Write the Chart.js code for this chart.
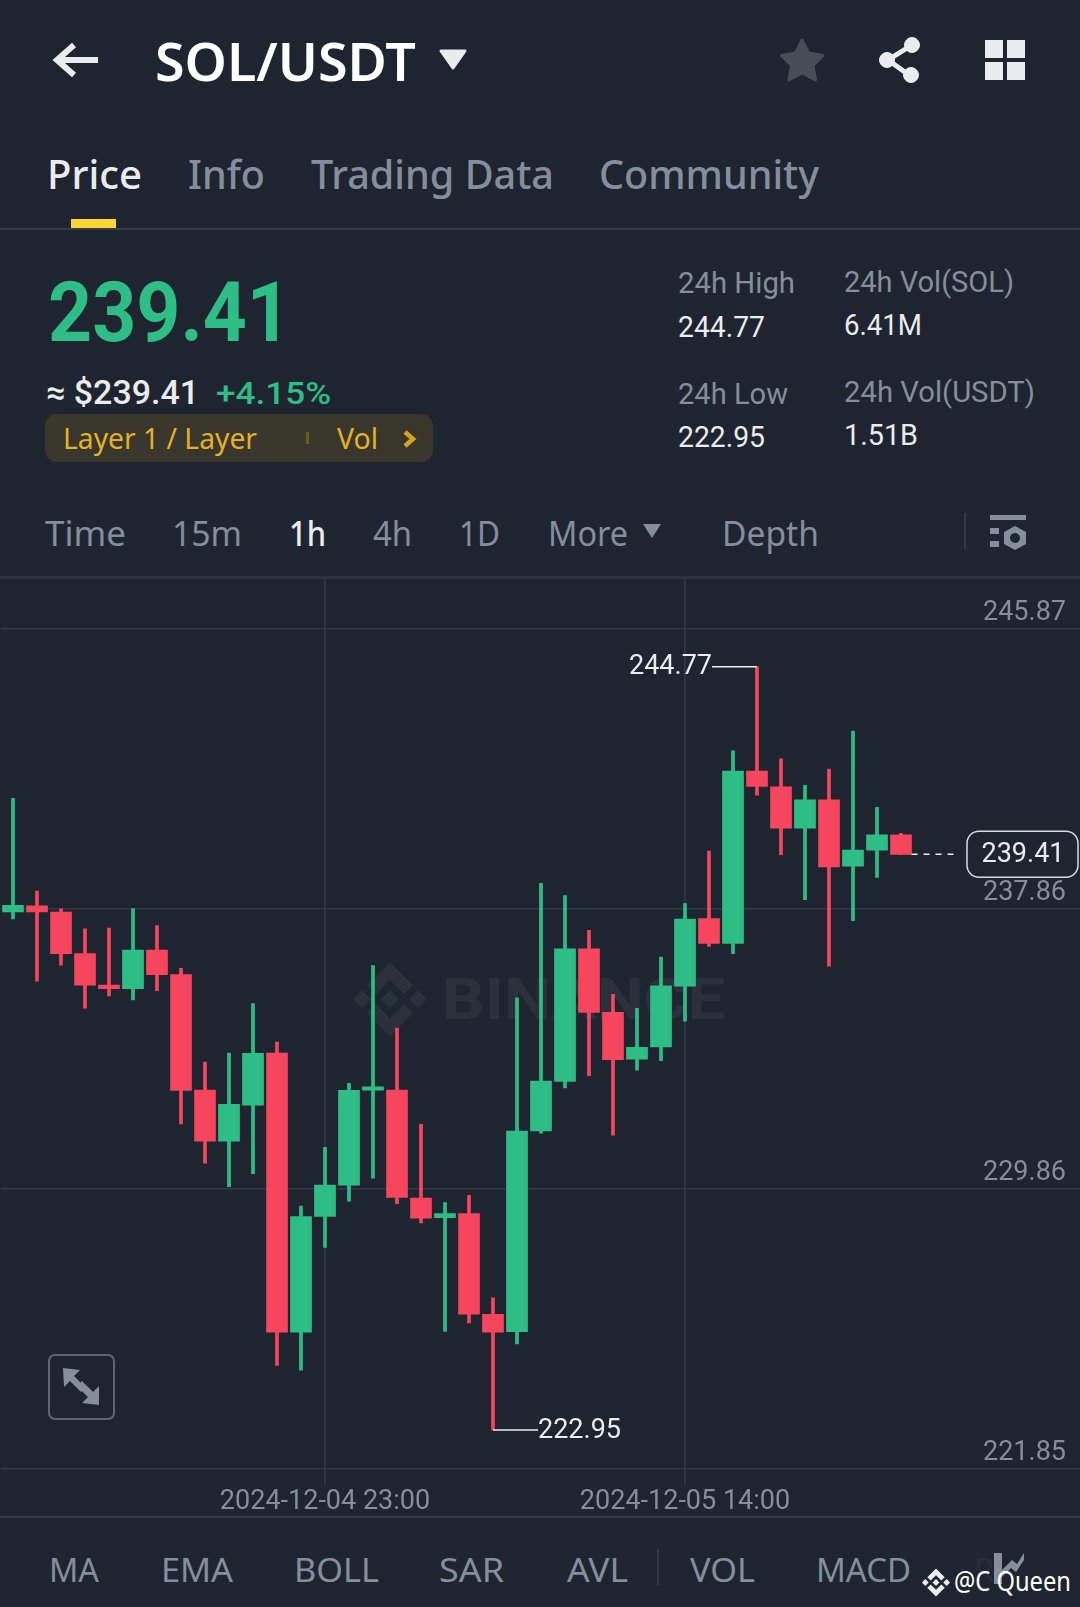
<!DOCTYPE html>
<html>
<head>
<meta charset="utf-8">
<title>SOL/USDT</title>
<script src="https://cdn.jsdelivr.net/npm/chart.js@4/dist/chart.umd.min.js"></script>
<style>
html, body { margin: 0; padding: 0; background: #1f2530; }
body { position: relative; width: 1080px; height: 1607px; overflow: hidden; }
#chrome { position: absolute; left: 0; top: 0; }
#chartBox { position: absolute; left: 1px; top: 578px; width: 1080px; height: 939px; }
text { font-family: Roboto, sans-serif; }
.plex { font-family: "Noto Sans", sans-serif; }
.gray { fill: #848e9c; }
.white { fill: #eaecef; }
.yellow { fill: #e3b128; }
.green { fill: #2ebd85; }
</style>
</head>
<body>

<svg id="chrome" width="1080" height="1607" viewBox="0 0 1080 1607">
  <defs>
    <g id="bnbLogo">
      <polygon points="0,-37 23,-14 14,-5 0,-19 -14,-5 -23,-14"/>
      <polygon points="0,37 23,14 14,5 0,19 -14,5 -23,14"/>
      <polygon points="0,-9 9,0 0,9 -9,0"/>
      <polygon points="-28,-9 -19,0 -28,9 -37,0"/>
      <polygon points="28,-9 37,0 28,9 19,0"/>
    </g>
  </defs>

  <!-- top bar -->
  <path d="M58 60H98M74 45L57 60L74 75" fill="none" stroke="#eaecef" stroke-width="6"/>
  <text class="plex" x="155" y="81" font-size="53" font-weight="600" fill="#ffffff" textLength="261" lengthAdjust="spacingAndGlyphs">SOL/USDT</text>
  <polygon points="441,51 465,51 453,68" fill="#eaecef" stroke="#eaecef" stroke-width="3" stroke-linejoin="round"/>
  <polygon points="802,40 808.7,53 823,55.5 813,65.5 815.5,80 802,73 789,80 791.5,65.5 781.5,55.5 795.5,53" fill="#474d57" stroke="#474d57" stroke-width="3" stroke-linejoin="round"/>
  <g fill="#eaecef" stroke="#eaecef">
    <path d="M912 45L888 60L909 75" fill="none" stroke-width="5"/>
    <circle cx="912" cy="45" r="7.5"/><circle cx="887" cy="60" r="7.5"/><circle cx="911" cy="75" r="7.5"/>
  </g>
  <g fill="#eaecef">
    <rect x="985" y="40" width="18" height="18"/><rect x="1007" y="40" width="18" height="18"/>
    <rect x="985" y="62" width="18" height="18"/><rect x="1007" y="62" width="18" height="18"/>
  </g>

  <!-- tabs -->
  <text class="plex" x="47" y="189" font-size="39" font-weight="500" fill="#eaecef" textLength="95" lengthAdjust="spacingAndGlyphs">Price</text>
  <text class="plex gray" x="188" y="189" font-size="39" font-weight="500" textLength="77" lengthAdjust="spacingAndGlyphs">Info</text>
  <text class="plex gray" x="311" y="189" font-size="39" font-weight="500" textLength="243" lengthAdjust="spacingAndGlyphs">Trading Data</text>
  <text class="plex gray" x="599" y="189" font-size="39" font-weight="500" textLength="220" lengthAdjust="spacingAndGlyphs">Community</text>
  <rect x="71" y="219" width="45" height="9" fill="#fcd535"/>
  <rect x="0" y="228" width="1080" height="2" fill="#333a46"/>

  <!-- price block -->
  <text x="48" y="341" font-size="84" font-weight="700" class="green" textLength="243" lengthAdjust="spacingAndGlyphs">239.41</text>
  <text x="46" y="404" font-size="34" font-weight="500" class="white" textLength="153" lengthAdjust="spacingAndGlyphs">≈ $239.41</text>
  <text x="216" y="404" font-size="32" font-weight="500" class="green" textLength="115" lengthAdjust="spacingAndGlyphs">+4.15%</text>
  <rect x="45" y="414" width="388" height="48" rx="12" fill="#39362c"/>
  <text class="plex yellow" x="63" y="449" font-size="29" textLength="194" lengthAdjust="spacingAndGlyphs">Layer 1 / Layer</text>
  <rect x="306" y="432" width="3" height="12" fill="#6b5a1e"/>
  <text class="plex yellow" x="337" y="449" font-size="29" textLength="41" lengthAdjust="spacingAndGlyphs">Vol</text>
  <path d="M405 432L413 439L405 446" fill="none" stroke="#d6a51e" stroke-width="4.5"/>

  <text class="gray" x="678" y="293" font-size="29" textLength="117" lengthAdjust="spacingAndGlyphs">24h High</text>
  <text class="white" x="678" y="337" font-size="29" textLength="87" lengthAdjust="spacingAndGlyphs">244.77</text>
  <text class="gray" x="844" y="292" font-size="29" textLength="170" lengthAdjust="spacingAndGlyphs">24h Vol(SOL)</text>
  <text class="white" x="844" y="335" font-size="29" textLength="78" lengthAdjust="spacingAndGlyphs">6.41M</text>
  <text class="gray" x="678" y="404" font-size="29" textLength="110" lengthAdjust="spacingAndGlyphs">24h Low</text>
  <text class="white" x="678" y="447" font-size="29" textLength="87" lengthAdjust="spacingAndGlyphs">222.95</text>
  <text class="gray" x="844" y="402" font-size="29" textLength="191" lengthAdjust="spacingAndGlyphs">24h Vol(USDT)</text>
  <text class="white" x="844" y="445" font-size="29" textLength="74" lengthAdjust="spacingAndGlyphs">1.51B</text>

  <!-- interval row -->
  <text class="plex gray" x="45" y="546" font-size="34" textLength="81" lengthAdjust="spacingAndGlyphs">Time</text>
  <text class="plex gray" x="172" y="546" font-size="34" textLength="70" lengthAdjust="spacingAndGlyphs">15m</text>
  <text class="plex white" x="289" y="546" font-size="34" font-weight="500" textLength="37" lengthAdjust="spacingAndGlyphs">1h</text>
  <text class="plex gray" x="373" y="546" font-size="34" textLength="39" lengthAdjust="spacingAndGlyphs">4h</text>
  <text class="plex gray" x="459" y="546" font-size="34" textLength="41" lengthAdjust="spacingAndGlyphs">1D</text>
  <text class="plex gray" x="548" y="546" font-size="34" textLength="80" lengthAdjust="spacingAndGlyphs">More</text>
  <polygon points="643,524 661,524 652,538" fill="#848e9c"/>
  <text class="plex gray" x="722" y="546" font-size="34" textLength="97" lengthAdjust="spacingAndGlyphs">Depth</text>
  <rect x="964" y="513" width="2" height="36" fill="#333a46"/>
  <g fill="#848e9c">
    <rect x="990" y="515" width="36" height="5"/>
    <rect x="990" y="528" width="9" height="6"/><rect x="990" y="541" width="9" height="6"/>
    <path d="M1015 526L1026 532V544L1015 550L1004 544V532ZM1015 533A5 5 0 1 0 1015 543A5 5 0 1 0 1015 533Z" fill-rule="evenodd"/>
  </g>
  <rect x="0" y="576" width="1080" height="3" fill="#2b3140"/>

  <!-- watermark -->
  <use href="#bnbLogo" transform="translate(390 999)" fill="#2b303b"/>
  <text x="442" y="1019" font-size="57" font-weight="700" fill="#2b303b" textLength="283" lengthAdjust="spacingAndGlyphs">BINANCE</text>

  <!-- bottom bar -->
  <rect x="0" y="1516" width="1080" height="2" fill="#333a46"/>
  <text class="plex gray" x="49" y="1582" font-size="33" textLength="50" lengthAdjust="spacingAndGlyphs">MA</text>
  <text class="plex gray" x="161" y="1582" font-size="33" textLength="72" lengthAdjust="spacingAndGlyphs">EMA</text>
  <text class="plex gray" x="294" y="1582" font-size="33" textLength="85" lengthAdjust="spacingAndGlyphs">BOLL</text>
  <text class="plex gray" x="439" y="1582" font-size="33" textLength="65" lengthAdjust="spacingAndGlyphs">SAR</text>
  <text class="plex gray" x="567" y="1582" font-size="33" textLength="61" lengthAdjust="spacingAndGlyphs">AVL</text>
  <rect x="657" y="1549" width="2" height="36" fill="#333a46"/>
  <text class="plex gray" x="690" y="1582" font-size="33" textLength="65" lengthAdjust="spacingAndGlyphs">VOL</text>
  <text class="plex gray" x="816" y="1582" font-size="33" textLength="95" lengthAdjust="spacingAndGlyphs">MACD</text>
  <text class="plex" x="974" y="1582" font-size="33" fill="#272d38">R</text>
  <path d="M994 1553H1002V1570L1012 1560L1017 1564L1024 1553L1024 1560L1016 1572L1011 1568L1002 1577V1584H994Z" fill="#848e9c"/>
  <use href="#bnbLogo" transform="translate(936 1582.5) scale(0.38)" fill="#eaecef"/>
  <text class="plex" x="954" y="1591" font-size="27" fill="#ffffff" textLength="117" lengthAdjust="spacingAndGlyphs">@C Queen</text>
</svg>

<div id="chartBox"><canvas id="klineChart"></canvas></div>

<svg width="1080" height="1607" viewBox="0 0 1080 1607" style="position:absolute;left:0;top:0;pointer-events:none">
  <rect x="49" y="1355" width="65" height="64" rx="6" fill="none" stroke="#5e6673" stroke-width="2"/>
  <g fill="#848e9c">
    <polygon points="63,1368 80,1370 74,1376 86,1388 81,1392 70,1381 64,1387"/>
    <polygon points="99,1405 82,1403 88,1397 77,1386 82,1381 93,1392 99,1386"/>
  </g>
</svg>

<script>
document.addEventListener("DOMContentLoaded", function () {

/* ================= DATA ================= */
const candleTimes = [
    "2024-12-04 10:00","2024-12-04 11:00","2024-12-04 12:00","2024-12-04 13:00","2024-12-04 14:00",
    "2024-12-04 15:00","2024-12-04 16:00","2024-12-04 17:00","2024-12-04 18:00","2024-12-04 19:00",
    "2024-12-04 20:00","2024-12-04 21:00","2024-12-04 22:00","2024-12-04 23:00","2024-12-05 00:00",
    "2024-12-05 01:00","2024-12-05 02:00","2024-12-05 03:00","2024-12-05 04:00","2024-12-05 05:00",
    "2024-12-05 06:00","2024-12-05 07:00","2024-12-05 08:00","2024-12-05 09:00","2024-12-05 10:00",
    "2024-12-05 11:00","2024-12-05 12:00","2024-12-05 13:00","2024-12-05 14:00","2024-12-05 15:00",
    "2024-12-05 16:00","2024-12-05 17:00","2024-12-05 18:00","2024-12-05 19:00","2024-12-05 20:00",
    "2024-12-05 21:00","2024-12-05 22:00","2024-12-05 23:00"
];
const emptySlots = ["","","","","","",""];

const opens = [237.76,237.94,237.76,236.57,235.67,235.57,236.67,235.97,232.67,231.21,
    232.24,233.73,225.75,229.06,229.95,232.67,232.67,229.58,229.02,229.14,
    226.26,225.76,231.50,232.92,236.71,234.89,233.55,233.90,235.64,237.57,
    236.86,241.79,241.34,240.16,240.97,239.07,239.53,239.97];
const highs = [241.01,238.36,237.85,237.28,237.30,237.86,237.37,236.15,233.47,233.73,
    235.14,234.04,229.35,231.03,232.86,236.23,234.44,231.69,229.45,229.66,
    226.73,235.31,238.58,238.23,237.24,235.41,235.01,236.47,238.00,239.50,
    242.37,244.77,242.14,241.38,241.85,242.93,240.75,240.01];
const lows = [237.56,235.78,236.24,235.01,235.36,235.25,235.51,231.70,230.58,229.91,
    230.28,224.80,224.66,228.17,229.49,230.15,229.42,228.87,225.77,226.01,
    222.95,225.41,231.44,232.73,233.08,231.38,233.24,233.51,234.64,236.78,
    236.57,241.10,239.40,238.11,236.21,237.51,238.75,239.41];
const closes = [237.95,237.76,236.57,235.67,235.57,236.67,235.97,232.66,231.21,232.26,
    233.72,225.75,229.05,229.95,232.66,232.76,229.60,229.01,229.14,226.26,
    225.75,231.50,232.93,236.71,234.89,233.54,233.89,235.65,237.56,236.86,
    241.79,241.35,240.16,240.97,239.05,239.53,239.97,239.41];

const priceTicks = [245.87, 237.86, 229.86, 221.85];
const timeTicks = ["2024-12-04 23:00", "2024-12-05 14:00"];
const lastPrice = 239.41;
const peakPrice = 244.77;
const troughPrice = 222.95;

const UP = "#2ebd85";
const DOWN = "#f6465d";
const GRID = "#323946";
const TICK_TEXT = "#848e9c";
const PAGE_BG = "#1f2530";

const candleColors = closes.map((c, i) => c >= opens[i] ? UP : DOWN);

/* ================= PRICE MARKERS ================= */
const priceMarkers = {
    id: "priceMarkers",
    afterDatasetsDraw(chart) {
        const { ctx, scales: { x, y } } = chart;
        const peakX = x.getPixelForValue(highs.indexOf(peakPrice));
        const troughX = x.getPixelForValue(lows.indexOf(troughPrice));
        const lastX = x.getPixelForValue(closes.length - 1) + 10.5;

        ctx.save();
        ctx.font = "27px Roboto";
        ctx.textBaseline = "middle";
        ctx.fillStyle = "#eaecef";
        ctx.strokeStyle = "#eaecef";
        ctx.lineWidth = 1.5;

        // high leader
        ctx.beginPath();
        ctx.moveTo(peakX, y.getPixelForValue(peakPrice));
        ctx.lineTo(peakX - 45, y.getPixelForValue(peakPrice));
        ctx.stroke();
        ctx.textAlign = "right";
        ctx.fillText(String(peakPrice), peakX - 45, y.getPixelForValue(peakPrice));

        // low leader
        ctx.beginPath();
        ctx.moveTo(troughX, y.getPixelForValue(troughPrice));
        ctx.lineTo(troughX + 45, y.getPixelForValue(troughPrice));
        ctx.stroke();
        ctx.textAlign = "left";
        ctx.fillText(String(troughPrice), troughX + 45, y.getPixelForValue(troughPrice) + 1);

        // last price line and box
        const lastY = y.getPixelForValue(lastPrice);
        ctx.setLineDash([6, 6]);
        ctx.beginPath();
        ctx.moveTo(lastX, lastY);
        ctx.lineTo(lastX + 42, lastY);
        ctx.stroke();
        ctx.setLineDash([]);

        ctx.beginPath();
        ctx.roundRect(966, lastY - 23, 111, 46, 12);
        ctx.fillStyle = PAGE_BG;
        ctx.fill();
        ctx.strokeStyle = "#d8dbe0";
        ctx.stroke();
        ctx.fillStyle = "#eaecef";
        ctx.textAlign = "center";
        ctx.fillText(lastPrice.toFixed(2), 1022, lastY + 1);
        ctx.restore();
    }
};

/* ================= CANDLE CHART ================= */
new Chart(document.getElementById("klineChart"), {
    type: "bar",
    data: {
        labels: candleTimes.concat(emptySlots),
        datasets: [
            {
                label: "wick",
                data: lows.map((l, i) => [l, highs[i]]),
                backgroundColor: candleColors,
                barThickness: 3,
                grouped: false,
                order: 2
            },
            {
                label: "body",
                data: opens.map((o, i) => [o, closes[i]]),
                backgroundColor: candleColors,
                barThickness: 21,
                grouped: false,
                order: 1
            }
        ]
    },
    options: {
        responsive: true,
        maintainAspectRatio: false,
        animation: false,
        plugins: { legend: { display: false }, tooltip: { enabled: false } },
        scales: {
            x: {
                afterFit(axis) { axis.height = 48.5; },
                border: { display: false },
                grid: {
                    offset: false,
                    tickLength: 17,
                    color: ctx => timeTicks.includes(candleTimes[ctx.index]) ? GRID : "transparent",
                    lineWidth: 1.5
                },
                ticks: {
                    autoSkip: false,
                    maxRotation: 0,
                    minRotation: 0,
                    padding: 1,
                    color: TICK_TEXT,
                    font: { family: "Roboto", size: 27 },
                    callback(value) {
                        const label = this.getLabelForValue(value);
                        return timeTicks.includes(label) ? label : "";
                    }
                }
            },
            y: {
                position: "right",
                min: 221.85,
                max: 247.31,
                afterBuildTicks(axis) { axis.ticks = priceTicks.map(v => ({ value: v })); },
                // mirrored labels must not eat into the plot area
                afterFit(axis) {
                    axis.width = 0;
                    axis.paddingTop = 0;
                    axis.paddingBottom = 0;
                },
                border: { display: false },
                grid: { color: GRID, lineWidth: 1.5, drawTicks: false },
                ticks: {
                    mirror: true,
                    padding: -15,
                    labelOffset: -15,
                    color: TICK_TEXT,
                    font: { family: "Roboto", size: 27 },
                    callback: value => value.toFixed(2)
                }
            }
        }
    },
    plugins: [priceMarkers]
});

});
</script>
</body>
</html>
